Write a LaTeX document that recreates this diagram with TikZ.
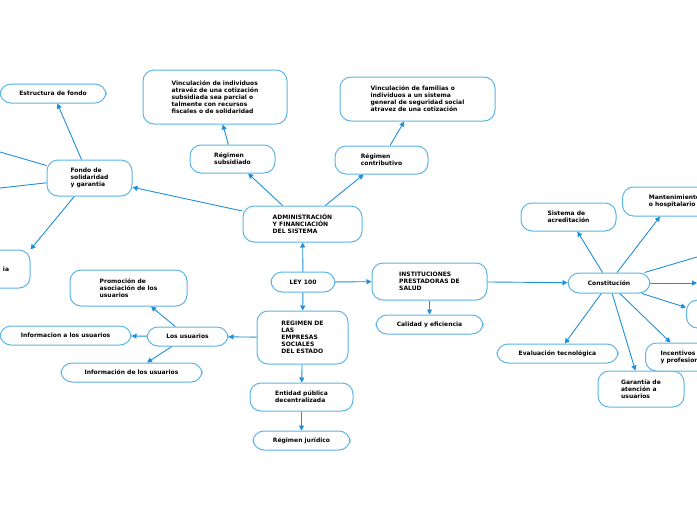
\documentclass[tikz,border=0pt]{standalone}
\usepackage{fontspec}
\setmainfont{DejaVu Sans}
\usetikzlibrary{arrows.meta}
\definecolor{bd}{HTML}{5CB5E8}
\definecolor{ar}{HTML}{1E8FD8}
\tikzset{
 box/.style={draw=bd,line width=1pt,rounded corners=11pt,fill=white,font=\fontsize{6}{7}\selectfont\bfseries,align=left,inner sep=2pt,anchor=center},
 con/.style={draw=ar,line width=0.9pt,-{Triangle[length=5pt,width=5pt]}},
 ln/.style={draw=ar,line width=0.9pt}
}
\newcommand{\bx}[5]{\node[box,minimum width=#3pt,minimum height=#4pt] (#1) at (#2) {#5};}
\begin{document}
\begin{tikzpicture}[x=1pt,y=-1pt]
\useasboundingbox (0,0) rectangle (697,520);
\clip (0,0) rectangle (697,520);
\bx{est}{53,93.5}{106}{19}{Estructura de fondo}
\bx{fon}{89.5,178}{85}{36}{Fondo de\\solidaridad\\y garantia}
\node[box,minimum width=70pt,minimum height=38pt,align=right] (lft) at (-5,269) {\hspace*{22pt}ia};
\bx{vi}{215,97}{144}{54}{Vinculación de individuos\\atravéz de una cotización\\subsidiada sea parcial o\\talmente con recursos\\fiscales o de solidaridad}
\bx{rs}{232.5,159}{85}{28}{Régimen\\subsidiado}
\bx{vf}{417.5,99}{155}{44}{Vinculación de familias o\\individuos a un sistema\\general de seguridad social\\atravez de una cotización}
\bx{rc}{381.5,160}{93}{28}{Régimen\\contributivo}
\bx{adm}{302.5,224}{119}{36}{ADMINISTRACIÓN\\Y FINANCIACIÓN\\DEL SISTEMA}
\bx{ley}{303,282}{64}{20}{LEY 100}
\bx{ins}{429.5,281.5}{115}{37}{INSTITUCIONES\\PRESTADORAS DE\\SALUD}
\bx{cal}{429.5,324.5}{107}{19}{Calidad y eficiencia}
\bx{reg}{302.5,337.5}{91}{53}{REGIMEN DE\\LAS\\EMPRESAS\\SOCIALES\\DEL ESTADO}
\bx{ent}{301.5,397}{103}{28}{Entidad pública\\decentralizada}
\bx{rj}{301.5,440.5}{97}{19}{Régimen jurídico}
\bx{lu}{187.5,336.5}{81}{19}{Los usuarios}
\bx{pro}{128.5,288}{117}{36}{Promoción de\\asociación de los\\usuarios}
\bx{ia}{65.5,335.5}{131}{19}{Informacion a los usuarios}
\bx{id}{131.5,372.5}{141}{19}{Información de los usuarios}
\bx{con}{609,283}{82}{20}{Constitución}
\bx{sis}{568.5,217}{95}{28}{Sistema de\\acreditación}
\node[box,minimum width=98pt,minimum height=29pt,anchor=west] (man) at (622,201.5) {\hspace*{6pt}Mantenimiento\\\hspace*{6pt}o hospitalario};
\bx{eva}{557.5,353.5}{121}{19}{Evaluación tecnológica}
\bx{gar}{641,389}{86}{36}{Garantía de\\atención a\\usuarios}
\node[box,minimum width=80pt,minimum height=28pt,anchor=west] (inc) at (645,357) {\hspace*{2pt}Incentivos\\\hspace*{2pt}y profesionales};
\node[box,minimum width=40pt,minimum height=28pt,anchor=west] (cir) at (686,314) {};
\coordinate (r1) at (697,257);
\coordinate (r2) at (697,283);
\coordinate (l1) at (0,152);
\coordinate (l2) at (0,188);
\draw[con] (adm) -- (fon);
\draw[con] (adm) -- (rs);
\draw[con] (adm) -- (rc);
\draw[con] (rs) -- (vi);
\draw[con] (rc) -- (vf);
\draw[con] (fon) -- (est);
\draw[con] (fon) -- (lft.north east);
\draw[ln] (fon) -- (l1);
\draw[ln] (fon) -- (l2);
\draw[con] (ley) -- (adm);
\draw[con] (ley) -- (ins);
\draw[con] (ley) -- (reg);
\draw[con] (ins) -- (cal);
\draw[con] (ins) -- (con);
\draw[con] (reg) -- (lu);
\draw[con] (reg) -- (ent);
\draw[con] (ent) -- (rj);
\draw[con] (lu) -- (pro);
\draw[con] (lu) -- (ia);
\draw[con] (lu) -- (id);
\draw[con] (con) -- (sis);
\draw[con] (con) -- (man);
\draw[con] (con) -- (eva);
\draw[con] (con) -- (gar);
\draw[con] (con) -- (inc);
\draw[con] (con) -- (cir);
\draw[ln] (con) -- (r1);
\draw[con] (con) -- (r2);
\end{tikzpicture}
\end{document}
